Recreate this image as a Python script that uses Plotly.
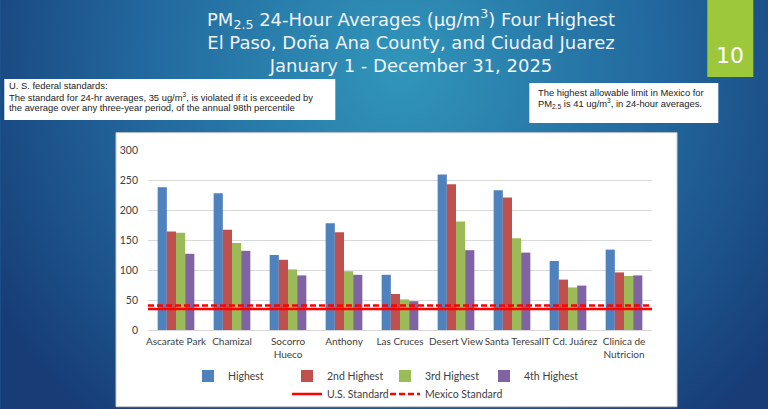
import base64
import plotly.graph_objects as go

# ---------------- data ----------------
sites = ["Ascarate Park", "Chamizal", "Socorro<br>Hueco", "Anthony", "Las Cruces",
         "Desert View", "Santa Teresa", "IIT Cd. Juárez", "Clinica de<br>Nutricion"]
highest = [238, 228, 125, 178, 92, 259, 233, 115, 134]
second_highest = [164, 167, 117, 163, 60, 243, 221, 84, 96]
third_highest = [162, 145, 101, 98, 51, 181, 153, 71, 90]
fourth_highest = [127, 132, 91, 92, 48, 133, 129, 74, 91]
us_standard = 35
mexico_standard = 41
y_ticks = [0, 50, 100, 150, 200, 250, 300]

# ---------------- geometry helpers ----------------
W, H = 768, 409
L, R, T, B = 147.7, 651.7, 150.0, 330.0


def px(x):
    return (x - L) / (R - L)


def py(y):
    return (B - y) / (B - T)


idx = list(range(len(sites)))
x_range = [-0.5, len(sites) - 0.5]

bar_colors = ["#4F81BD", "#C0504D", "#9BBB59", "#8064A2"]
names = ["Highest", "2nd Highest", "3rd Highest", "4th Highest"]
series = [highest, second_highest, third_highest, fourth_highest]
bar_legends = ["legend", "legend2", "legend3", "legend4"]

fig = go.Figure()
for nm, vals, col, lg in zip(names, series, bar_colors, bar_legends):
    fig.add_trace(go.Bar(x=idx, y=vals, name=nm, marker=dict(color=col, line=dict(width=0)),
                         legend=lg))

fig.add_trace(go.Scatter(x=x_range, y=[us_standard] * 2, mode="lines", name="U.S. Standard",
                         line=dict(color="#FF0000", width=2.5), legend="legend5"))
fig.add_trace(go.Scatter(x=x_range, y=[mexico_standard] * 2, mode="lines", name="Mexico Standard",
                         line=dict(color="#FF0000", width=2.5, dash="6px,3px"), legend="legend6"))

# ---------------- background gradient ----------------
svg = ('<svg xmlns="http://www.w3.org/2000/svg" width="768" height="409">'
       '<defs><radialGradient id="g" cx="400" cy="70" r="470" gradientUnits="userSpaceOnUse">'
       '<stop offset="0" stop-color="#3196ba"/><stop offset="0.55" stop-color="#22689e"/>'
       '<stop offset="1" stop-color="#173c76"/></radialGradient></defs>'
       '<rect width="768" height="409" fill="url(#g)"/></svg>')
src = "data:image/svg+xml;base64," + base64.b64encode(svg.encode()).decode()

images = [dict(source=src, xref="paper", yref="paper", x=px(0), y=py(0),
               sizex=W / (R - L), sizey=H / (B - T), xanchor="left", yanchor="top",
               sizing="stretch", layer="below")]


def rect(x0, y0, x1, y1, fill, line=None):
    return dict(type="rect", xref="paper", yref="paper", x0=px(x0), x1=px(x1),
                y0=py(y1), y1=py(y0), fillcolor=fill, layer="below",
                line=line or dict(width=0))


shapes = [
    rect(115.7, 132.7, 676.7, 406.7, "white", dict(color="#c8c8c8", width=1)),
    rect(4, 79, 335, 120, "white"),
    rect(529, 83, 718, 123, "white"),
    rect(707, -2, 753, 77, "#9DC83B"),
]

narrow = "Liberation Sans Narrow, Arial Narrow, Liberation Sans, Arial"
chart_font = "Lato, Liberation Sans, sans-serif"
title_font = "DejaVu Sans, sans-serif"


def ann(text, x, y, size, color, family, xanchor="left"):
    return dict(text=text, xref="paper", yref="paper", x=px(x), y=py(y), xanchor=xanchor,
                yanchor="middle", showarrow=False, font=dict(size=size, color=color, family=family),
                align="left")


title_text = ("PM<sub>2.5</sub> 24-Hour Averages (µg/m<sup>3</sup>) Four Highest<br>"
              "El Paso, Doña Ana County, and Ciudad Juarez<br>"
              "January 1 - December 31, 2025")

annotations = [
    dict(text=title_text, xref="paper", yref="paper", x=px(411), y=py(41), xanchor="center",
         yanchor="middle", showarrow=False, align="center",
         font=dict(size=18, color="#eef3f8", family=title_font)),
    ann("10", 730, 55, 22, "white", title_font, "center"),
    ann("U. S. federal standards:", 6.5, 86, 9.4, "#222222", narrow),
    ann("The standard for 24-hr averages, 35 ug/m<sup>3</sup>, is violated if it is exceeded by", 6.5, 96.5, 9.4, "#222222", narrow),
    ann("the average over any three-year period, of the annual 98th percentile", 6.5, 107, 9.4, "#222222", narrow),
    ann("The highest allowable limit in Mexico for", 535.5, 92.7, 9.4, "#222222", narrow),
    ann("PM<sub>2.5</sub> is 41 ug/m<sup>3</sup>, in 24-hour averages.", 535.5, 103.5, 9.4, "#222222", narrow),
]

legend_common = dict(orientation="h", xref="container", yref="container",
                     xanchor="left", yanchor="middle",
                     bgcolor="rgba(0,0,0,0)", font=dict(size=10.5, color="#404040", family=chart_font),
                     itemwidth=30)

# text start positions (px) of each legend entry, and row centres
legend_pos = {
    "legend": (227, 376), "legend2": (326, 376), "legend3": (424, 376), "legend4": (523, 376),
    "legend5": (326, 394), "legend6": (424, 394),
}
legend_layout = {k: dict(legend_common, x=(xs - 39) / W, y=1 - yc / H) for k, (xs, yc) in legend_pos.items()}

fig.update_layout(
    width=W, height=H,
    margin=dict(l=L, r=W - R, t=T, b=H - B, autoexpand=False),
    paper_bgcolor="#1f5c96",
    plot_bgcolor="rgba(0,0,0,0)",
    barmode="group", bargap=0.345, bargroupgap=0,
    font=dict(family=chart_font, size=10.5, color="#595959"),
    xaxis=dict(range=x_range, tickmode="array", tickvals=idx, ticktext=sites, tickangle=0,
               showgrid=False, zeroline=False, showline=False, ticks="", ticklabelstandoff=4,
               tickfont=dict(size=10, color="#404040"), automargin=False, fixedrange=True),
    yaxis=dict(range=[0, 300], tickmode="array", tickvals=y_ticks, showgrid=True,
               gridcolor="#d9d9d9", gridwidth=1, zeroline=True, zerolinecolor="#d9d9d9",
               zerolinewidth=1, showline=False, ticks="", ticklabelstandoff=9,
               tickfont=dict(size=10.5, color="#404040"), automargin=False, fixedrange=True),
    images=images, shapes=shapes, annotations=annotations,
    showlegend=True,
    **legend_layout,
)

fig.write_html("out.html")
